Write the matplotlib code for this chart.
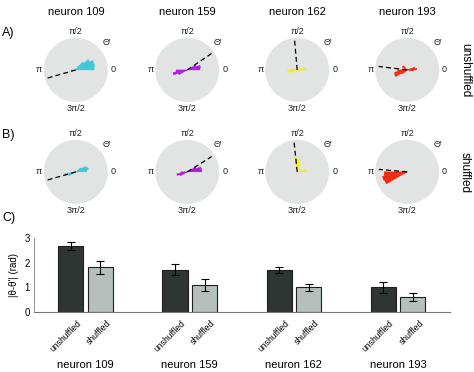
import matplotlib
matplotlib.use("Agg")
import matplotlib.pyplot as plt
import matplotlib.transforms as mtransforms
import numpy as np

plt.rcParams['font.family'] = ['Liberation Sans', 'DejaVu Sans']

neurons = ["neuron 109", "neuron 159", "neuron 162", "neuron 193"]
rose_colors = ["#3cc8d8", "#b018e0", "#f0f020", "#f02a10"]

# rose histograms, 10 degree bins (left edge in degrees, radius as fraction of circle)
unsh_angles = [
    [180, 0, 10, 20, 30, 40, 50],
    [180, 190, 200, 0, 10, 20],
    [170, 180, 190, 350, 0, 10],
    [180, 190, 200, 210, 130, 140, 350, 0, 10],
]
unsh_radii = [
    [0.15, 0.57, 0.6, 0.6, 0.5, 0.32, 0.15],
    [0.35, 0.45, 0.3, 0.4, 0.42, 0.3],
    [0.2, 0.3, 0.25, 0.15, 0.27, 0.22],
    [0.3, 0.4, 0.42, 0.2, 0.17, 0.18, 0.2, 0.3, 0.25],
]
shuf_angles = [
    [190, 200, 0, 10, 20, 30],
    [180, 190, 200, 0, 10, 20],
    [70, 80, 90, 0, 10, 270],
    [180, 190, 200],
]
shuf_radii = [
    [0.35, 0.25, 0.35, 0.4, 0.35, 0.2],
    [0.2, 0.33, 0.25, 0.45, 0.45, 0.3],
    [0.3, 0.4, 0.45, 0.3, 0.25, 0.1],
    [0.72, 0.78, 0.75],
]
# dashed theta' direction (degrees) and its length
unsh_theta = [196, 34, 95, 173]
unsh_theta_len = [0.95, 1.0, 0.93, 0.9]
shuf_theta = [196, 32, 96, 175]
shuf_theta_len = [0.95, 0.9, 0.95, 0.89]

angle_labels = ["0", "π/2", "π", "3π/2"]

# panel C
conditions = ["unshuffled", "shuffled"]
err_unsh = [2.68, 1.72, 1.70, 1.00]
err_unsh_sd = [0.17, 0.24, 0.13, 0.22]
err_shuf = [1.81, 1.09, 1.00, 0.62]
err_shuf_sd = [0.27, 0.25, 0.15, 0.16]

fig = plt.figure(figsize=(4.74, 3.72), dpi=100)

col_x = [0.160, 0.395, 0.627, 0.859]
row_y = [0.812, 0.538]
w, h = 64 / 474, 64 / 372

def rose(ax, angles, radii, color, theta, tlen):
    ax.set_facecolor("#e2e3e3")
    ax.spines['polar'].set_visible(False)
    ax.grid(False)
    ax.set_ylim(0, 1)
    ax.set_yticks([])
    ax.set_xticks([])
    ax.bar(np.deg2rad(angles), radii, width=np.deg2rad(10), align='edge',
           color=color, edgecolor=color, linewidth=0.3)
    ax.plot([0, np.deg2rad(theta)], [0, tlen], color="k", lw=0.9,
            dashes=(4, 2.5))
    # angle labels placed just outside the circle
    for lab, ang, rr in zip(angle_labels, [0, 90, 180, 270], [1.17, 1.2, 1.15, 1.22]):
        ax.text(np.deg2rad(ang), rr, lab, fontsize=6.5, ha="center", va="center",
                color="#222222", clip_on=False)
    ax.text(np.deg2rad(42), 1.3, "Θ'", fontsize=6.5, ha="center", va="center",
            color="#222222", clip_on=False)

for i in range(4):
    for r, (angs, rads, th, tl) in enumerate([
            (unsh_angles, unsh_radii, unsh_theta, unsh_theta_len),
            (shuf_angles, shuf_radii, shuf_theta, shuf_theta_len)]):
        ax = fig.add_axes([col_x[i] - w / 2, row_y[r] - h / 2, w, h], projection='polar')
        rose(ax, angs[i], rads[i], rose_colors[i], th[i], tl[i])
    fig.text(col_x[i], 1 - 12 / 372, neurons[i], ha="center", va="center", fontsize=8)

fig.text(2 / 474, 1 - 33 / 372, "A)", fontsize=9, va="center")
fig.text(2 / 474, 1 - 135 / 372, "B)", fontsize=9, va="center")
fig.text(2 / 474, 1 - 218 / 372, "C)", fontsize=9, va="center")
fig.text(465 / 474, 1 - 70 / 372, "unshuffled", rotation=-90, fontsize=8.5,
         ha="center", va="center")
fig.text(465 / 474, 1 - 172 / 372, "shuffled", rotation=-90, fontsize=8.5,
         ha="center", va="center")

# bar chart
bx = fig.add_axes([34 / 474, 60 / 372, 416 / 474, 74 / 372])
group_pos = np.arange(4) * 3.53
bx.bar(group_pos, err_unsh, width=0.85, color="#2e3533", edgecolor="#1e1e1e", lw=0.8)
bx.bar(group_pos + 1, err_shuf, width=0.85, color="#b5bfbb", edgecolor="#1e1e1e", lw=0.8)
bx.errorbar(group_pos, err_unsh, yerr=err_unsh_sd, fmt="none", ecolor="k",
            elinewidth=0.8, capsize=3, capthick=0.8, clip_on=False)
bx.errorbar(group_pos + 1, err_shuf, yerr=err_shuf_sd, fmt="none", ecolor="k",
            elinewidth=0.8, capsize=3, capthick=0.8, clip_on=False)
bx.set_xlim(-1.25, 12.85)
bx.set_ylim(0, 3)
bx.set_yticks([0, 1, 2, 3])
bx.tick_params(axis='y', labelsize=7, length=0, pad=3)
bx.tick_params(axis='x', length=0, pad=5)
ticks = np.sort(np.concatenate([group_pos, group_pos + 1]))
bx.set_xticks(ticks)
bx.set_xticklabels(conditions * 4, rotation=45, ha="right", rotation_mode="anchor",
                   fontsize=6.2)
shift = mtransforms.ScaledTranslation(6 / 100, 0, fig.dpi_scale_trans)
for lab in bx.get_xticklabels():
    lab.set_transform(lab.get_transform() + shift)
for s in ["top", "right"]:
    bx.spines[s].set_visible(False)
bx.spines["left"].set_color("#999999")
bx.spines["bottom"].set_color("#777777")
bx.spines["left"].set_linewidth(0.8)
bx.spines["bottom"].set_linewidth(0.8)
bx.set_ylabel("|θ-θ'| (rad)", fontsize=7, labelpad=4)
trans = mtransforms.blended_transform_factory(bx.transData, fig.transFigure)
for i in range(4):
    bx.text(group_pos[i] + 0.5, 1 - 365 / 372, neurons[i], transform=trans,
            ha="center", va="center", fontsize=8)

fig.savefig("out.png", dpi=100)
